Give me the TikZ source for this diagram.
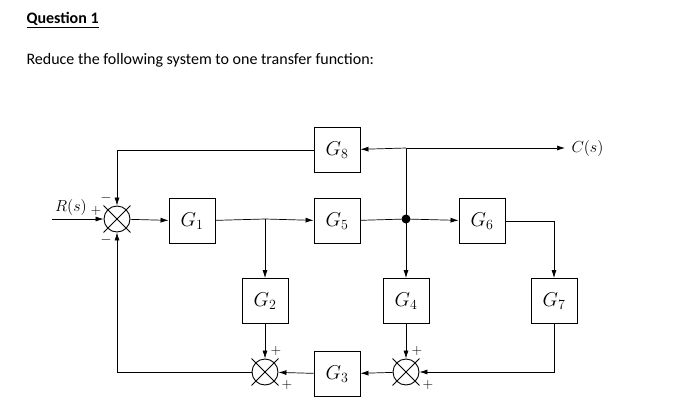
\documentclass[tikz,border=0pt]{standalone}
\usepackage{fix-cm}
\usepackage{fontspec}
\setmainfont{Carlito}
\usetikzlibrary{shapes.misc,arrows.meta}
\begin{document}
\begin{tikzpicture}[x=1pt,y=-1pt,
 blk/.style={draw,line width=0.9pt,minimum width=46pt,minimum height=45pt,inner sep=0pt,font=\fontsize{20}{20}\selectfont},
 sum/.style={draw,line width=0.9pt,circle,cross out,minimum size=26pt,inner sep=0pt},
 sumc/.style={draw,line width=0.9pt,circle,minimum size=26pt,inner sep=0pt},
 ar/.style={-{Latex[length=8pt,width=5pt]},line width=0.7pt},
 ln/.style={line width=0.7pt},
 sg/.style={font=\fontsize{14}{14}\selectfont,inner sep=0pt}]
\useasboundingbox (0,0) rectangle (693,415);
\node[anchor=west,font=\bfseries\fontsize{16}{16}\selectfont] (q) at (23,20) {\underline{Question 1}};
\node[anchor=west,font=\fontsize{16}{16}\selectfont] (t) at (23,60) {Reduce the following system to one transfer function:};
\node[sum] (s1) at (117,219) {};
\node[sumc] at (117,219) {};
\node[blk] (g1) at (192,221) {$G_1$};
\node[blk] (g5) at (337,221) {$G_5$};
\node[blk] (g6) at (482,221) {$G_6$};
\node[blk] (g8) at (337,150) {$G_8$};
\node[blk] (g2) at (265,301) {$G_2$};
\node[blk] (g4) at (406,301) {$G_4$};
\node[blk] (g7) at (554,301) {$G_7$};
\node[blk] (g3) at (337,374) {$G_3$};
\node[sum] (s2) at (265,372) {};
\node[sumc] at (265,372) {};
\node[sum] (s3) at (406,372) {};
\node[sumc] at (406,372) {};
\coordinate (rin) at (52,219);
\coordinate (cout) at (565,148);
\coordinate (j1) at (265,219);
\fill (406,219) circle (4.5pt) coordinate (j2);
\coordinate (jt) at (406,148);
\node[anchor=south east,font=\fontsize{16}{16}\selectfont,inner sep=1pt] (r) at (88,217) {$R(s)$};
\node[anchor=west,font=\fontsize{16}{16}\selectfont] (c) at (568,148) {$C(s)$};
\draw[ar] (rin) -- (s1);
\draw[ar] (s1) -- (g1);
\draw[ln] (g1) -- (j1);
\draw[ar] (j1) -- (g5);
\draw[ar] (j1) -- (g2);
\draw[ln] (g5) -- (j2);
\draw[ar] (j2) -- (g6);
\draw[ar] (j2) -- (g4);
\draw[ln] (j2) -- (jt);
\draw[ar] (jt) -- (cout);
\draw[ar] (jt) -- (g8);
\draw[ar] (g8.west) -| (s1.north);
\draw[ar] (g6.east) -| (g7.north);
\draw[ar] (g2) -- (s2);
\draw[ar] (g4) -- (s3);
\draw[ar] (g7.south) |- (s3.east);
\draw[ar] (s3) -- (g3);
\draw[ar] (g3) -- (s2);
\draw[ar] (s2.west) -| (s1.south);
\node[sg] at (96,211) {$+$};
\node[sg] at (106,198) {$-$};
\node[sg] at (106,240) {$-$};
\node[sg] at (276,351) {$+$};
\node[sg] at (287,385) {$+$};
\node[sg] at (417,351) {$+$};
\node[sg] at (428,385) {$+$};
\end{tikzpicture}
\end{document}
